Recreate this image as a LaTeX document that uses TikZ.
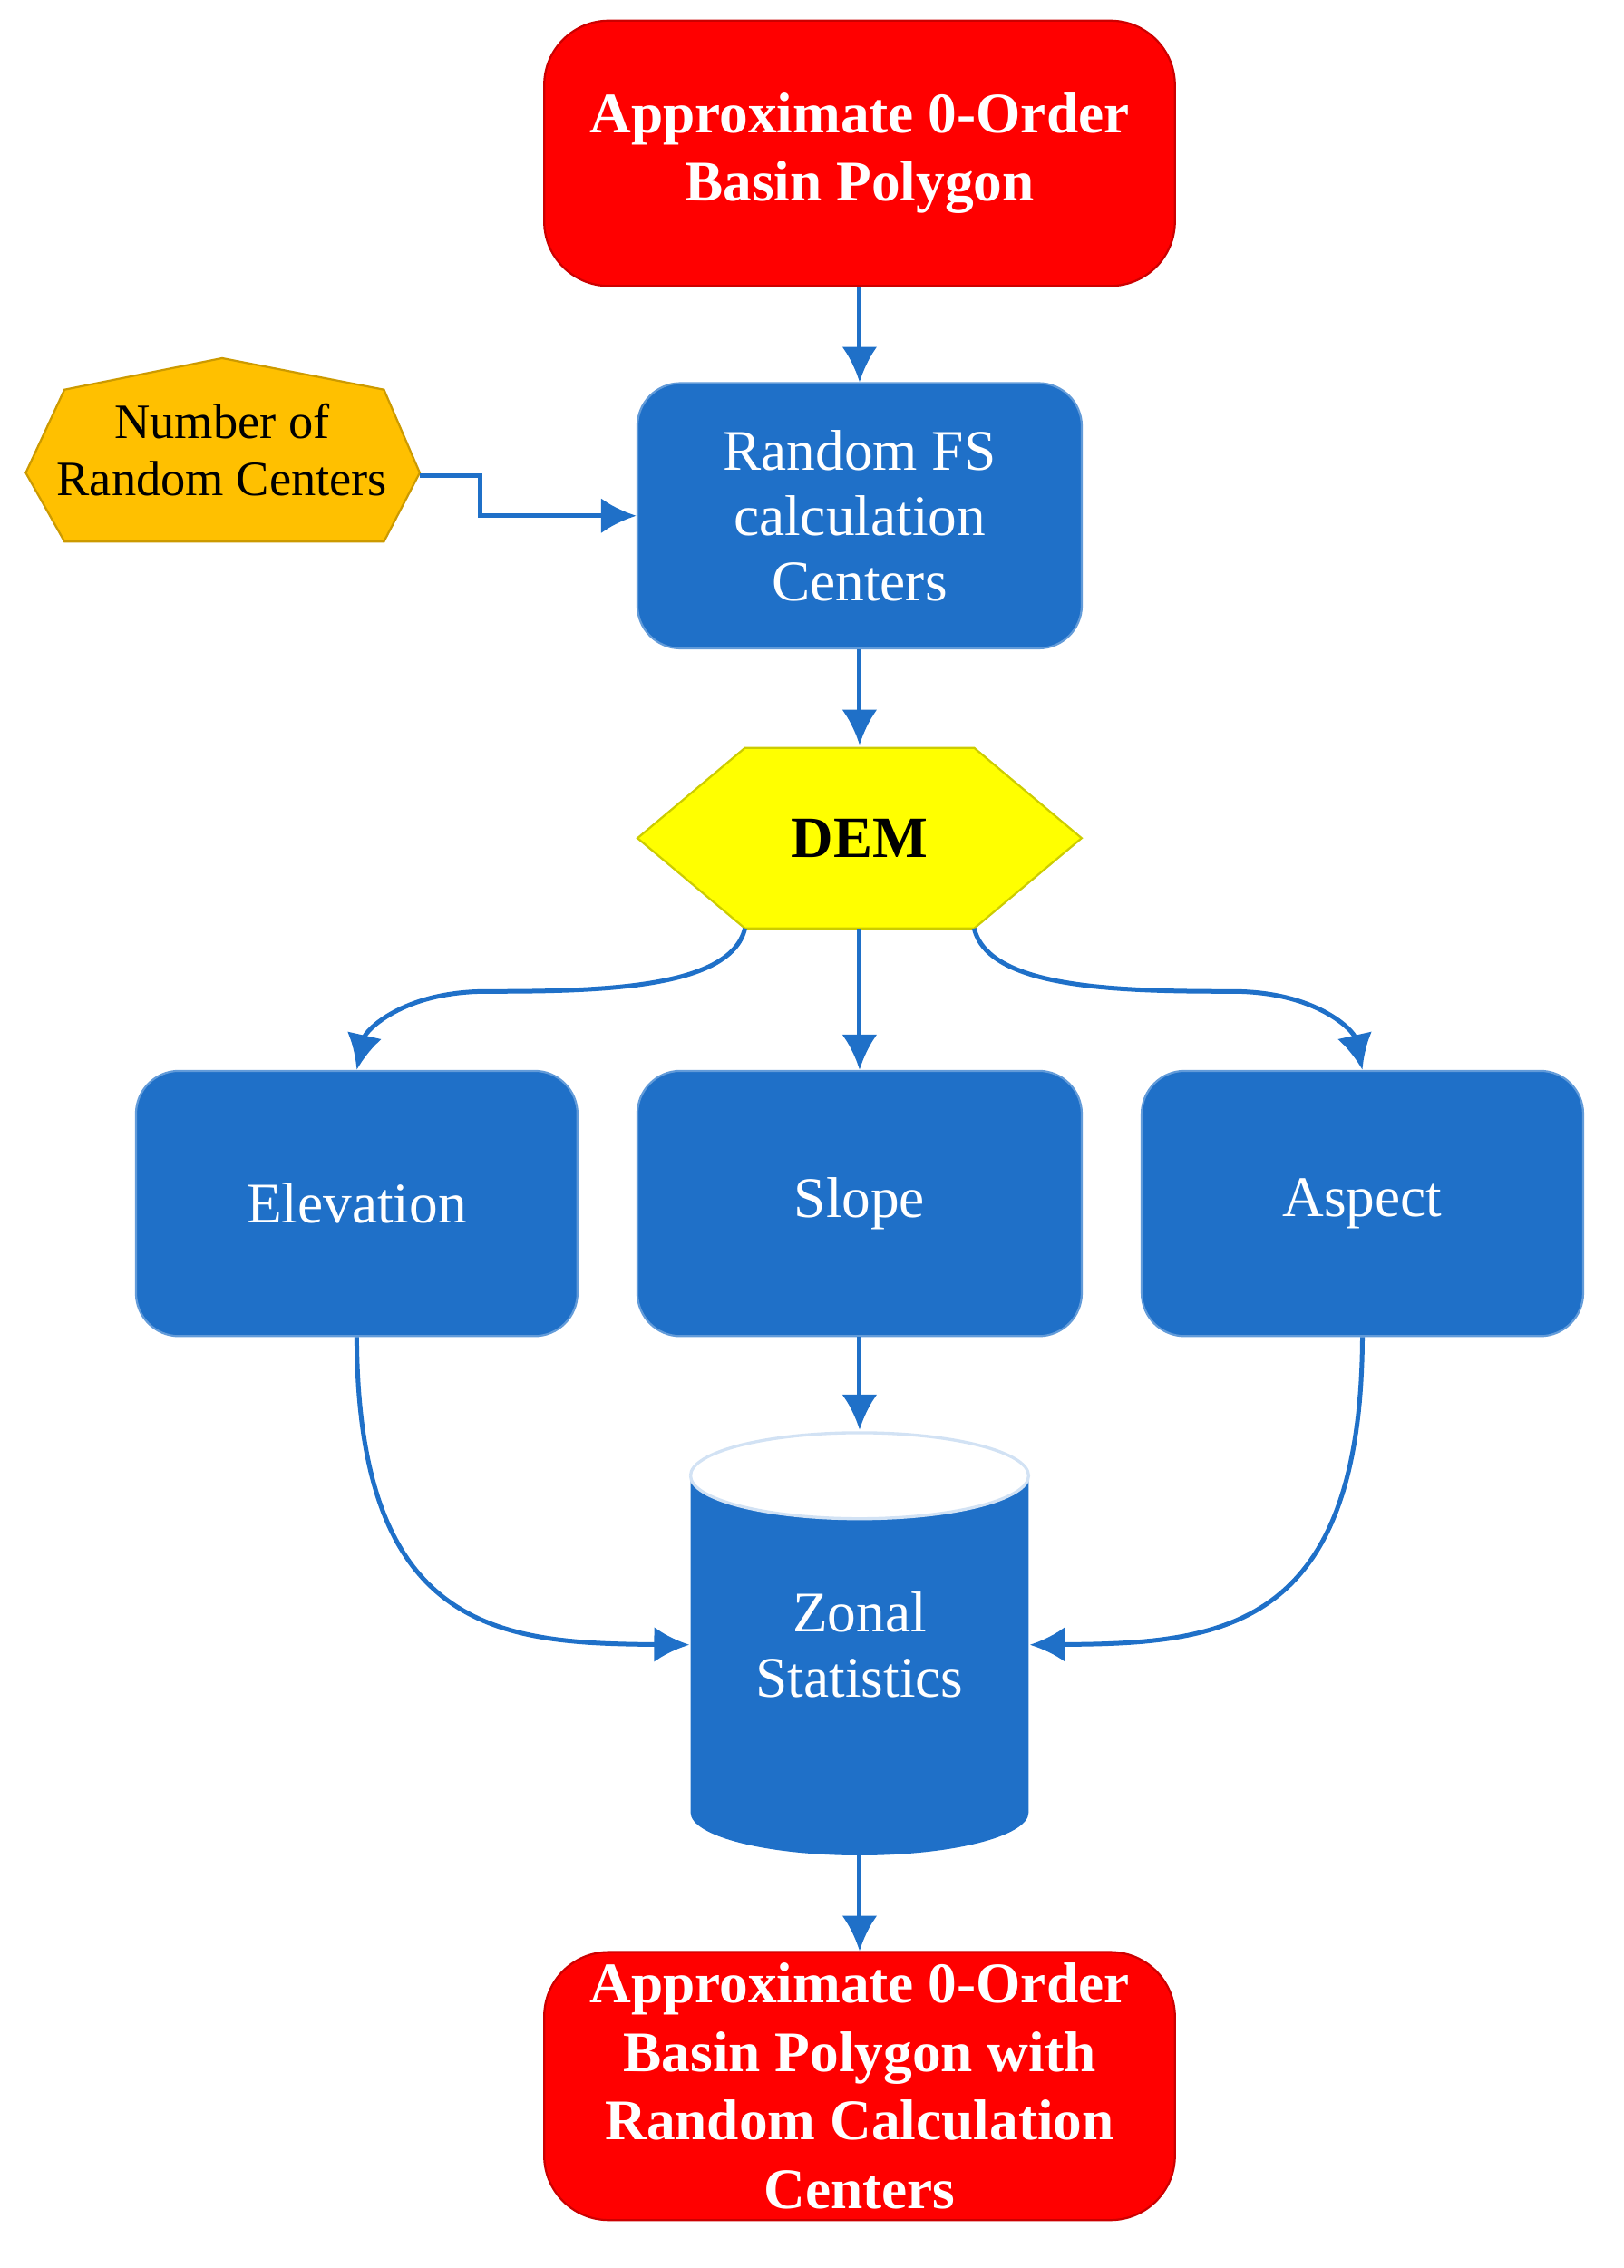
\documentclass[tikz,border=0pt]{standalone}
\usepackage{fontspec}
\setmainfont{Liberation Serif}
\usetikzlibrary{arrows.meta}
\definecolor{bblue}{HTML}{1F70C8}
\definecolor{rred}{HTML}{FF0000}
\definecolor{oor}{HTML}{FFC000}
\definecolor{yy}{HTML}{FFFF00}
\begin{document}
\begin{tikzpicture}[x=0.01cm,y=-0.01cm,
  redbox/.style={fill=rred,draw=rred!80!black,rounded corners=0.45cm,text=white,font=\fontsize{11.4}{13.6}\selectfont\bfseries,align=center,inner sep=1pt},
  bluebox/.style={fill=bblue,draw=bblue!70!white,rounded corners=0.3cm,text=white,font=\fontsize{11.4}{13}\selectfont,align=center},
  arr/.style={draw=bblue,line width=0.9pt,-{Latex[length=7pt,width=7pt]}}]
\useasboundingbox (0,0) rectangle (1133,1583);
\node[redbox,minimum width=4.4cm,minimum height=1.85cm] (top) at (600,107) {Approximate 0-Order\\Basin Polygon};
\node[bluebox,minimum width=3.1cm,minimum height=1.85cm] (fs) at (600,360) {Random FS\\calculation\\Centers};
\fill[oor,draw=oor!80!black] (18,330)--(45,272)--(155,250)--(268,272)--(293,330)--(268,378)--(45,378)--cycle;
\node[font=\fontsize{9.8}{11.5}\selectfont,align=center] (num) at (155,314) {Number of\\Random Centers};
\coordinate (numr) at (293,332);
\fill[yy,draw=yy!80!black] (445,585)--(520,522)--(680,522)--(755,585)--(680,648)--(520,648)--cycle;
\node[font=\fontsize{11.6}{14}\selectfont\bfseries] (dem) at (600,585) {DEM};
\coordinate (deml) at (520,648); \coordinate (demm) at (600,648); \coordinate (demr) at (680,648);
\node[bluebox,minimum width=3.08cm,minimum height=1.85cm] (elev) at (249,840) {Elevation};
\node[bluebox,minimum width=3.1cm,minimum height=1.85cm] (slope) at (600,840) {Slope};
\node[bluebox,minimum width=3.08cm,minimum height=1.85cm] (asp) at (951,840) {Aspect};
\fill[bblue] (482,1030) arc[start angle=180,end angle=360,x radius=118,y radius=-30] -- (718,1265) arc[start angle=0,end angle=-180,x radius=118,y radius=-30] -- cycle;
\draw[white!80!bblue,line width=0.6pt] (482,1030) arc[start angle=180,end angle=-180,x radius=118,y radius=-30];
\node[minimum width=2.36cm,minimum height=2.95cm,text=white,font=\fontsize{11.4}{13}\selectfont,align=center] (zon) at (600,1148) {Zonal\\Statistics};
\node[redbox,minimum width=4.4cm,minimum height=1.87cm] (bot) at (600,1456) {Approximate 0-Order\\Basin Polygon with\\Random Calculation\\Centers};
\draw[arr] (top) -- (fs);
\draw[arr] (numr) -- (335,332) -- (335,360) -- (fs.west);
\draw[arr] (fs) -- (600,520);
\draw[arr] (demm) -- (slope.north);
\draw[arr] (deml) .. controls (510,690) and (420,692) .. (340,692) .. controls (280,692) and (255,720) .. (elev.north);
\draw[arr] (demr) .. controls (690,690) and (780,692) .. (860,692) .. controls (920,692) and (945,720) .. (asp.north);
\draw[arr] (elev.south) .. controls (250,1140) and (350,1147) .. (zon.west);
\draw[arr] (asp.south) .. controls (950,1140) and (850,1147) .. (zon.east);
\draw[arr] (slope.south) -- (600,998);
\draw[arr] (600,1295) -- (bot.north);
\end{tikzpicture}
\end{document}
